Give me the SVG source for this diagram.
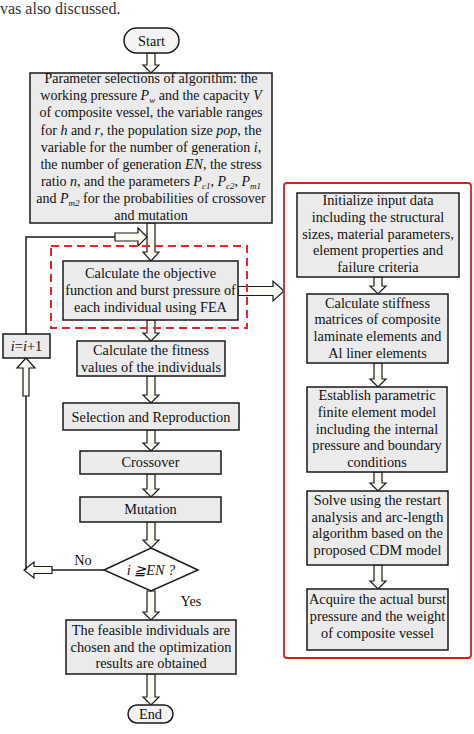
<svg xmlns="http://www.w3.org/2000/svg" width="474" height="734" viewBox="0 0 474 734">
<style>
.box{fill:#ebebeb;stroke:#1a1a1a;stroke-width:1.5}
.term{fill:#f4f4f4;stroke:#1a1a1a;stroke-width:1.5}
.arr{fill:#fbfbf3;stroke:#1a1a1a;stroke-width:1.2;stroke-linejoin:miter}
.ln{fill:none;stroke:#1a1a1a;stroke-width:1.5}
.t{font-family:"Liberation Serif","Times New Roman",serif;font-size:14.3px;fill:#111;text-anchor:middle}
.p{font-size:14px}
.i{font-style:italic}
.s{font-size:9px;font-style:italic}
</style>
<rect width="474" height="734" fill="#ffffff"/>
<text x="0" y="14" font-family="Liberation Serif, serif" font-size="16" fill="#333">vas also discussed.</text>

<g id="connectors">
  <polygon class="arr" points="147,53 155,53 155,65 159,65 151,73 143,65 147,65"/>
  <polygon class="arr" points="147,223 155,223 155,252 159,252 151,261 143,252 147,252"/>
  <polyline class="ln" points="26,334 26,237 115,237"/>
  <polygon class="arr" points="115,233 138,233 138,228 147,237 138,246 138,241 115,241"/>
  <polygon class="arr" points="238,286.5 273,286.5 273,281 284,291 273,301 273,295.5 238,295.5"/>
  <polygon class="arr" points="147,320 155,320 155,333 159,333 151,341 143,333 147,333"/>
  <polygon class="arr" points="147,376 155,376 155,395 159,395 151,403 143,395 147,395"/>
  <polygon class="arr" points="147,430 155,430 155,443 159,443 151,451 143,443 147,443"/>
  <polygon class="arr" points="147,474 155,474 155,489 159,489 151,497 143,489 147,489"/>
  <polygon class="arr" points="147,522 155,522 155,540 159,540 151,548 143,540 147,540"/>
  <polygon class="arr" points="147,591 155,591 155,612 159,612 151,620 143,612 147,612"/>
  <polygon class="arr" points="147,674 155,674 155,697 159,697 151,705 143,697 147,697"/>
  <line class="ln" x1="104" y1="570" x2="52" y2="570"/>
  <polygon class="arr" points="52,566.5 34,566.5 34,562 24,570 34,578 34,573.5 52,573.5"/>
  <line class="ln" x1="26" y1="570" x2="26" y2="396"/>
  <polygon class="arr" points="23,396 23,368 17,368 26,358 35,368 29,368 29,396"/>
  <polygon class="arr" points="374,277 382,277 382,286 386,286 378,294 370,286 374,286"/>
  <polygon class="arr" points="374,363 382,363 382,379 386,379 378,387 370,379 374,379"/>
  <polygon class="arr" points="374,472 382,472 382,483 386,483 378,491 370,483 374,483"/>
  <polygon class="arr" points="374,565 382,565 382,581 386,581 378,589 370,581 374,581"/>
</g>

<g id="start">
  <rect class="term" x="124" y="28" width="55" height="25" rx="12.5"/>
  <text class="t" x="151.5" y="45.5">Start</text>
</g>

<g id="params">
  <rect class="box" x="30" y="73" width="242" height="150"/>
  <text class="t p" x="151" y="83">Parameter selections of algorithm:  the</text>
  <text class="t p" x="151" y="100">working pressure <tspan class="i">P</tspan><tspan class="s" dy="3">w</tspan><tspan dy="-3"> and the capacity </tspan><tspan class="i">V</tspan></text>
  <text class="t p" x="151" y="117">of composite vessel, the variable ranges</text>
  <text class="t p" x="151" y="134.5">for <tspan class="i">h</tspan> and <tspan class="i">r</tspan>, the population size <tspan class="i">pop</tspan>,  the</text>
  <text class="t p" x="151" y="151.5">variable for the number of generation <tspan class="i">i</tspan>,</text>
  <text class="t p" x="151" y="168.5">the number of  generation <tspan class="i">EN</tspan>, the stress</text>
  <text class="t p" x="151" y="186">ratio <tspan class="i">n</tspan>, and the parameters <tspan class="i">P</tspan><tspan class="s" dy="3">c1</tspan><tspan dy="-3">, </tspan><tspan class="i">P</tspan><tspan class="s" dy="3">c2</tspan><tspan dy="-3">, </tspan><tspan class="i">P</tspan><tspan class="s" dy="3">m1</tspan></text>
  <text class="t p" x="151" y="203">and <tspan class="i">P</tspan><tspan class="s" dy="3">m2</tspan><tspan dy="-3"> for the probabilities of crossover</tspan></text>
  <text class="t p" x="151" y="220">and mutation</text>
</g>

<rect id="fea-highlight" x="51" y="246" width="196" height="82" fill="none" stroke="#e02828" stroke-width="2" stroke-dasharray="8 5"/>

<g id="calc-objective">
  <rect class="box" x="63" y="261" width="175" height="59"/>
  <text class="t" x="150.5" y="277.5">Calculate  the objective</text>
  <text class="t" x="150.5" y="294.5">function and burst pressure of</text>
  <text class="t" x="150.5" y="312">each individual using FEA</text>
</g>

<g id="fitness">
  <rect class="box" x="77" y="341" width="148" height="35"/>
  <text class="t" x="151" y="355">Calculate  the fitness</text>
  <text class="t" x="151" y="371.5">values of the individuals</text>
</g>

<g id="selection">
  <rect class="box" x="63" y="403" width="176" height="27"/>
  <text class="t" x="151" y="421.5">Selection and Reproduction</text>
</g>

<g id="crossover">
  <rect class="box" x="80" y="451" width="141" height="23"/>
  <text class="t" x="150.5" y="467">Crossover</text>
</g>

<g id="mutation">
  <rect class="box" x="80" y="497" width="141" height="25"/>
  <text class="t" x="150.5" y="514">Mutation</text>
</g>

<g id="decision">
  <polygon points="151,548 198,570 151,591 104,570" fill="#ffffff" stroke="#1a1a1a" stroke-width="1.5"/>
  <text class="t i" x="151" y="575">i ≧EN ?</text>
  <text class="t" x="83" y="565">No</text>
  <text class="t" x="191" y="606">Yes</text>
</g>

<g id="increment">
  <rect class="box" x="3" y="334" width="47" height="24"/>
  <text class="t" x="26.5" y="351"><tspan class="i">i</tspan>=<tspan class="i">i</tspan>+1</text>
</g>

<g id="feasible">
  <rect class="box" x="66" y="620" width="170" height="54"/>
  <text class="t" x="151" y="635">The feasible individuals  are</text>
  <text class="t" x="151" y="651.5">chosen  and the optimization</text>
  <text class="t" x="151" y="668">results are obtained</text>
</g>

<g id="end">
  <rect class="term" x="128" y="705" width="45" height="18" rx="9"/>
  <text class="t" x="150.5" y="718.5">End</text>
</g>

<g id="fea-panel">
  <rect x="284" y="183" width="187" height="475" rx="3" fill="none" stroke="#d42020" stroke-width="1.8"/>
</g>

<g id="init-data">
  <rect class="box" x="297" y="193" width="162" height="84"/>
  <text class="t" x="378" y="205">Initialize input data</text>
  <text class="t" x="378" y="221.5">including the structural</text>
  <text class="t" x="378" y="238.5">sizes, material parameters,</text>
  <text class="t" x="378" y="255">element properties and</text>
  <text class="t" x="378" y="272">failure criteria</text>
</g>

<g id="stiffness">
  <rect class="box" x="307" y="294" width="141" height="69"/>
  <text class="t" x="377.5" y="307.5">Calculate stiffness</text>
  <text class="t" x="377.5" y="324">matrices of composite</text>
  <text class="t" x="377.5" y="341">laminate elements and</text>
  <text class="t" x="377.5" y="357.5">Al liner elements</text>
</g>

<g id="fe-model">
  <rect class="box" x="307" y="387" width="140" height="85"/>
  <text class="t" x="377" y="400">Establish parametric</text>
  <text class="t" x="377" y="417">finite element model</text>
  <text class="t" x="377" y="433.5">including the internal</text>
  <text class="t" x="377" y="450">pressure and boundary</text>
  <text class="t" x="377" y="467">conditions</text>
</g>

<g id="solve">
  <rect class="box" x="307" y="491" width="141" height="74"/>
  <text class="t" x="377.5" y="505">Solve using the restart</text>
  <text class="t" x="377.5" y="521.5">analysis and arc-length</text>
  <text class="t" x="377.5" y="538">algorithm based on the</text>
  <text class="t" x="377.5" y="555">proposed CDM model</text>
</g>

<g id="acquire">
  <rect class="box" x="307" y="589" width="141" height="61"/>
  <text class="t" x="377.5" y="604">Acquire the actual burst</text>
  <text class="t" x="377.5" y="621">pressure and the weight</text>
  <text class="t" x="377.5" y="638">of composite vessel</text>
</g>
</svg>
